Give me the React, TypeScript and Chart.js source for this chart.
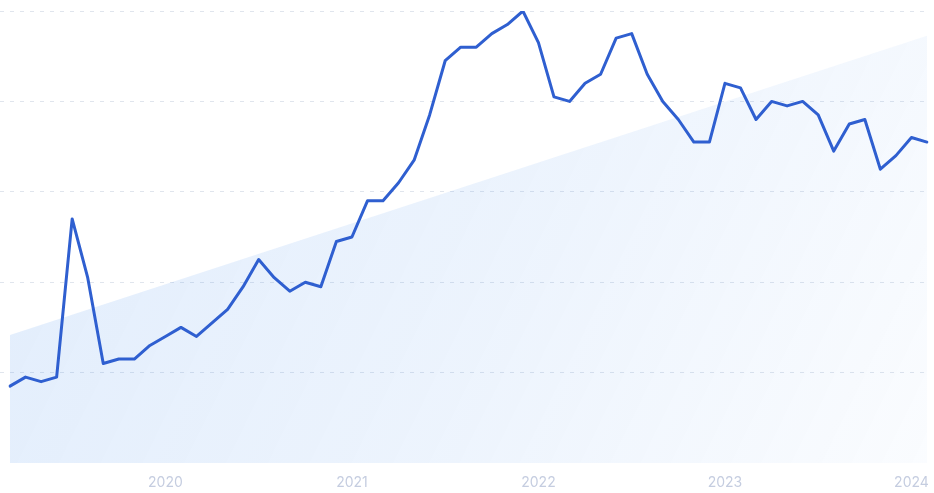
import React, { useEffect, useRef } from "react";
import { Chart, registerables } from "chart.js";

Chart.register(...registerables);

const MONTHS: string[] = [
  "2019-03","2019-04","2019-05","2019-06","2019-07","2019-08","2019-09","2019-10","2019-11","2019-12",
  "2020-01","2020-02","2020-03","2020-04","2020-05","2020-06","2020-07","2020-08","2020-09","2020-10","2020-11","2020-12",
  "2021-01","2021-02","2021-03","2021-04","2021-05","2021-06","2021-07","2021-08","2021-09","2021-10","2021-11","2021-12",
  "2022-01","2022-02","2022-03","2022-04","2022-05","2022-06","2022-07","2022-08","2022-09","2022-10","2022-11","2022-12",
  "2023-01","2023-02","2023-03","2023-04","2023-05","2023-06","2023-07","2023-08","2023-09","2023-10","2023-11","2023-12",
  "2024-01","2024-02",
];

const INTEREST: number[] = [
  17, 19, 18, 19, 54, 41, 22, 23, 23, 26,
  28, 30, 28, 31, 34, 39, 45, 41, 38, 40, 39, 49,
  50, 58, 58, 62, 67, 77, 89, 92, 92, 95, 97, 100,
  93, 81, 80, 84, 86, 94, 95, 86, 80, 76, 71, 71,
  84, 83, 76, 80, 79, 80, 77, 69, 75, 76, 65, 68,
  72, 71,
];

const TREND_START = 28.3;
const TREND_END = 94.5;

const Y_TICKS: number[] = [0, 20, 40, 60, 80, 100];

export default function App() {
  const canvasRef = useRef<HTMLCanvasElement | null>(null);

  useEffect(() => {
    if (!canvasRef.current) return;
    const last = MONTHS.length - 1;
    const trend = MONTHS.map((_, i) => (i === 0 ? TREND_START : i === last ? TREND_END : null));

    const chart = new Chart(canvasRef.current, {
      type: "line",
      data: {
        labels: MONTHS,
        datasets: [
          {
            label: "Interest",
            data: INTEREST,
            borderColor: "#2f5fd0",
            borderWidth: 3,
            pointRadius: 0,
            tension: 0,
            borderJoinStyle: "round",
            borderCapStyle: "round",
            fill: false,
            order: 1,
          },
          {
            label: "Trend",
            data: trend,
            spanGaps: true,
            borderWidth: 0,
            borderColor: "rgba(0,0,0,0)",
            pointRadius: 0,
            fill: "origin",
            order: 2,
            backgroundColor: (ctx: any) => {
              const { chart } = ctx;
              const area = chart.chartArea;
              if (!area) return "rgba(50,130,235,0.1)";
              const g = chart.ctx.createLinearGradient(area.left, area.top, area.right, area.bottom);
              g.addColorStop(0, "rgba(50,130,235,0.15)");
              g.addColorStop(0.55, "rgba(50,130,235,0.09)");
              g.addColorStop(1, "rgba(50,130,235,0.025)");
              return g;
            },
          },
        ],
      },
      options: {
        animation: false,
        responsive: true,
        maintainAspectRatio: false,
        layout: { padding: { top: 11, right: 7, bottom: 0, left: 0 } },
        plugins: {
          legend: { display: false },
          tooltip: { enabled: false },
        },
        scales: {
          x: {
            type: "category",
            offset: false,
            grid: { display: false, drawTicks: false },
            border: { display: false },
            afterFit: (axis: any) => {
              axis.height = 30;
              axis.paddingLeft = 0;
              axis.paddingRight = 0;
            },
            ticks: {
              autoSkip: false,
              maxRotation: 0,
              minRotation: 0,
              padding: 11,
              color: "#c5cde0",
              font: { family: "Inter", size: 14 },
              callback: (_v: any, i: number) => {
                const m = MONTHS[i];
                return m && m.endsWith("-01") ? m.slice(0, 4) : "";
              },
            },
          },
          y: {
            min: Y_TICKS[0],
            max: Y_TICKS[Y_TICKS.length - 1],
            afterBuildTicks: (axis: any) => {
              axis.ticks = Y_TICKS.map((v) => ({ value: v }));
            },
            afterFit: (axis: any) => {
              axis.width = 10;
            },
            ticks: { display: false },
            grid: {
              drawTicks: true,
              tickLength: 10,
              lineWidth: 1,
              tickBorderDash: [4, 6],
              color: (ctx: any) => (ctx.tick && ctx.tick.value === 0 ? "rgba(0,0,0,0)" : "#e0e5ed"),
            },
            border: { display: false, dash: [4, 6] },
          },
        },
      },
    });

    return () => chart.destroy();
  }, []);

  return (
    <div style={{ position: "absolute", left: 0, top: 0, width: 934, height: 493, background: "#ffffff" }}>
      <canvas ref={canvasRef} />
    </div>
  );
}
